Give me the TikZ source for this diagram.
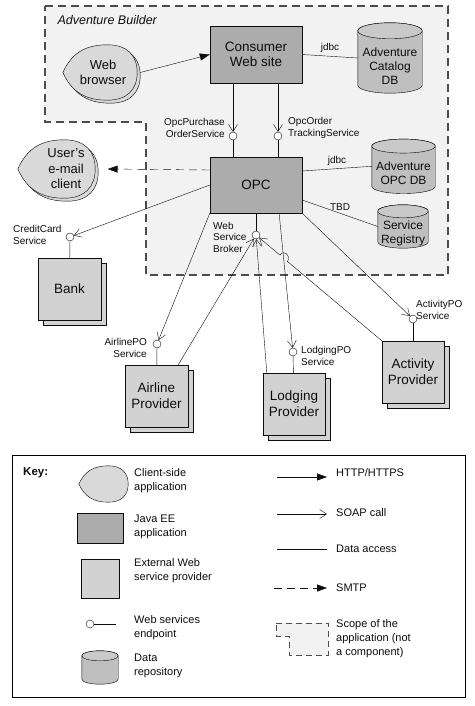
\documentclass[tikz,border=0pt]{standalone}
\usepackage{fontspec}
\setmainfont{Liberation Sans}
\usetikzlibrary{arrows.meta,shadows,calc}
\pgfdeclarelayer{back}
\pgfdeclarelayer{blob}
\pgfsetlayers{back,blob,main}

% client-side application outline round a node, shifted by (#2pt,#3pt)
\newcommand{\clientblob}[3]{%
  \path[clientapp] let \p1=($(#1.south west)+(#2pt,#3pt)$), \p2=($(#1.north east)+(#2pt,#3pt)$),
      \n1={\x2-\x1}, \n2={\y2-\y1} in
    (\x1,{\y1+0.5*\n2})
    .. controls ({\x1+0.12*\n1},{\y1+0.85*\n2}) and ({\x1+0.3*\n1},\y2) .. ({\x1+0.6*\n1},\y2)
    .. controls ({\x1+0.87*\n1},\y2) and (\x2,{\y1+0.8*\n2}) .. (\x2,{\y1+0.5*\n2})
    .. controls (\x2,{\y1+0.2*\n2}) and ({\x1+0.87*\n1},\y1) .. ({\x1+0.6*\n1},\y1)
    .. controls ({\x1+0.3*\n1},\y1) and ({\x1+0.12*\n1},{\y1+0.15*\n2}) .. (\x1,{\y1+0.5*\n2}) -- cycle;}

% data repository drum filling a node, end radius #2
\newcommand{\dbdrum}[2]{%
  \path[dbbody] let \p1=(#1.south west), \p2=(#1.north east), \n1={(\x2-\x1)/2} in
    (\x1,{\y2-#2}) -- (\x1,{\y1+#2}) arc[start angle=180, end angle=360, x radius=\n1, y radius=#2]
    -- (\x2,{\y2-#2}) arc[start angle=0, end angle=180, x radius=\n1, y radius=#2] -- cycle;
  \path[dbtop] let \p1=(#1.south west), \p2=(#1.north east), \n1={(\x2-\x1)/2} in
    ({\x1+\n1},{\y2-#2}) ellipse[x radius=\n1, y radius=#2];}

\begin{document}
\begin{tikzpicture}[x=1pt, y=-1pt, line width=1.1pt, color=black!95,
    javaapp/.style={draw, fill=gray!65, minimum width=92pt, minimum height=57pt, align=center, font=\fontsize{13.5}{15.5}\selectfont},
    extprov/.style={draw, fill=gray!35, minimum width=63pt, minimum height=62pt, align=center, font=\fontsize{13.5}{16}\selectfont},
    provshadow/.style={copy shadow={shadow xshift=5pt, shadow yshift=-5pt}},
    clientapp/.style={draw, fill=gray!30},
    clientnode/.style={inner sep=0pt, align=center, font=\fontsize{13}{15.5}\selectfont},
    datastore/.style={inner sep=0pt},
    dbbody/.style={draw, fill=gray!50},
    dbtop/.style={draw, fill=gray!42},
    dbtext/.style={align=center, inner sep=0pt, font=\fontsize{12}{14}\selectfont},
    endpoint/.style={circle, draw, fill=white, inner sep=0pt, minimum size=8pt},
    eplabel/.style={align=left, inner sep=0pt, font=\fontsize{10}{11.5}\selectfont},
    keytext/.style={anchor=west, align=left, inner sep=0pt, font=\fontsize{11}{14}\selectfont},
    http/.style={-{Triangle[length=10pt,width=7pt]}},
    soap/.style={-{Straight Barb[length=7pt,width=9pt]}},
    smtp/.style={dash pattern=on 8pt off 5pt, -{Triangle[length=10pt,width=7pt]}},
    scopearea/.style={draw=black!70, fill=gray!10, line width=1.1pt, dash pattern=on 8pt off 5pt}]
    \useasboundingbox (0,0) rectangle (474,706);

    % Scope of Adventure Builder and frame of the key
    \begin{pgfonlayer}{back}
        \path[scopearea] (45,6) -- (448,6) -- (448,275) -- (146,275) -- (146,122) -- (45,122) -- cycle;
        \node[draw, fill=white, line width=1pt, minimum width=453pt, minimum height=242pt] (keyframe) at (238.5,576) {};
    \end{pgfonlayer}
    \node[anchor=west, font=\fontsize{12.5}{14}\selectfont\itshape] (title) at (54,20) {Adventure Builder};

    % Web tier
    \node[javaapp] (CW) at (256,54.5) {Consumer\\Web site};
    \node[clientnode, minimum width=74pt, minimum height=55pt] (WB) at (103,72.5) {Web\\browser};
    \node[datastore, minimum width=64pt, minimum height=70pt,
          label={[dbtext, yshift=-8pt]center:Adventure\\Catalog\\DB}] (CDB) at (390,58) {};
    \begin{pgfonlayer}{blob}
        \clientblob{WB}{0}{-3}
        \clientblob{WB}{-3}{0}
        \dbdrum{CDB}{8pt}
    \end{pgfonlayer}
    \draw[http] (WB.east) -- (CW.west);
    \draw (CW.east) -- (CDB.west) node[midway, above=3pt, eplabel] {jdbc};

    % OPC and its data
    \node[javaapp, minimum height=56pt] (OPC) at (256,185) {OPC};
    \node[clientnode, minimum width=77pt, minimum height=58pt] (UM) at (66,169) {User's\\e-mail\\client};
    \node[datastore, minimum width=63pt, minimum height=54pt,
          label={[dbtext, yshift=-7pt]center:Adventure\\OPC DB}] (ODB) at (403.5,166.3) {};
    \node[datastore, minimum width=50pt, minimum height=43pt,
          label={[dbtext, yshift=-6.5pt]center:Service\\Registry}] (SR) at (403,226.5) {};
    \begin{pgfonlayer}{blob}
        \clientblob{UM}{-6.5}{-3}
        \clientblob{UM}{-9.5}{0}
        \dbdrum{ODB}{7pt}
        \dbdrum{SR}{6.5pt}
    \end{pgfonlayer}
    \draw[smtp] ([yshift=15pt]OPC.west) -- ([xshift=3pt]UM.east);
    \draw ([yshift=14pt]OPC.east) -- (ODB.west) node[midway, above=3pt, eplabel] {jdbc};
    \draw ([yshift=-15pt]OPC.east) -- (SR.west) node[midway, above=3pt, eplabel] {TBD};

    % Endpoints
    \node[endpoint] (EP1) at (233,136) {};
    \node[endpoint] (EP2) at (278,136) {};
    \node[endpoint] (CCS) at (70,237) {};
    \node[endpoint] (WSB) at (256,235) {};
    \node[endpoint] (APO) at (157,344) {};
    \node[endpoint] (LPO) at (293,352) {};
    \node[endpoint] (VPO) at (413,319) {};
    \node[eplabel, align=right, anchor=east] (EP1l) at (225,128) {OpcPurchase\\OrderService};
    \node[eplabel, anchor=west] (EP2l) at (288,128) {OpcOrder\\TrackingService};
    \node[eplabel, anchor=west] (CCSl) at (13,235) {CreditCard\\Service};
    \node[eplabel, anchor=west] (WSBl) at (213,237) {Web\\Service\\Broker};
    \node[eplabel, align=right, anchor=east] (APOl) at (147,348) {AirlinePO\\Service};
    \node[eplabel, anchor=west] (LPOl) at (301,356) {LodgingPO\\Service};
    \node[eplabel, anchor=west] (VPOl) at (416,310) {ActivityPO\\Service};

    \draw[soap] (CW.south -| EP1) -- (EP1);
    \draw (EP1) -- (OPC.north -| EP1);
    \draw[soap] (CW.south -| EP2) -- (EP2);
    \draw (EP2) -- (OPC.north -| EP2);

    % External providers
    \node[extprov, provshadow] (BK) at (69.5,289) {Bank};
    \node[extprov, provshadow] (AP) at (156.5,396) {Airline\\Provider};
    \node[extprov, provshadow, minimum width=62pt] (LP) at (294,404) {Lodging\\Provider};
    \node[extprov, provshadow, minimum width=62pt] (VP) at (413,372) {Activity\\Provider};

    \draw[soap] (OPC.west) -- (CCS);
    \draw (CCS) -- (BK);
    \draw (OPC.south) -- (WSB);
    \draw[soap] (OPC.south west) -- (APO);
    \draw (APO) -- (AP);
    \draw[soap] ($(OPC.south)!0.5!(OPC.south east)$) -- (LPO);
    \draw (LPO) -- (LP);
    \draw[soap] (OPC.south east) -- (VPO);
    \draw (VPO) -- (VP);

    % Providers call back the broker
    \draw[soap] ([xshift=-10pt]AP.north east) -- (WSB);
    \draw[soap] ([xshift=4pt]LP.north west) -- (WSB);
    \coordinate (hopA) at ($(VP.north west)!0.75!(WSB)$);
    \coordinate (hopB) at ($(VP.north west)!0.81!(WSB)$);
    \draw[soap] (VP.north west) -- (hopA) .. controls ($(hopA)+(4,-6)$) and ($(hopB)+(4,-6)$) .. (hopB) -- (WSB);

    % Key
    \node[anchor=west, inner sep=0pt, font=\fontsize{11.5}{14}\selectfont\bfseries] (keyhead) at (23,473) {Key:};
    \node[clientnode, minimum width=49pt, minimum height=36pt] (kclient) at (103.5,484) {};
    \node[keytext] (kclientl) at (134,481) {Client-side\\application};
    \node[javaapp, minimum width=46pt, minimum height=30pt] (kjava) at (100,528) {};
    \node[keytext] (kjaval) at (134,527) {Java EE\\application};
    \node[extprov, minimum width=38pt, minimum height=39pt] (kext) at (100,578.5) {};
    \node[keytext] (kextl) at (134,571) {External Web\\service provider};
    \node[endpoint] (kep) at (90,624) {};
    \coordinate (kepend) at (116,624);
    \draw (kep) -- (kepend);
    \node[keytext] (kepl) at (134,628) {Web services\\endpoint};
    \node[datastore, minimum width=36pt, minimum height=33pt] (kdb) at (100,667.5) {};
    \node[keytext] (kdbl) at (134,666) {Data\\repository};
    \begin{pgfonlayer}{blob}
        \clientblob{kclient}{0}{0}
        \dbdrum{kdb}{5pt}
    \end{pgfonlayer}

    \coordinate (kh0) at (277,477); \coordinate (kh1) at (327,477);
    \draw[http] (kh0) -- (kh1);
    \node[keytext] (khl) at (336,473) {HTTP/HTTPS};
    \coordinate (ks0) at (277,514); \coordinate (ks1) at (327,514);
    \draw[soap] (ks0) -- (ks1);
    \node[keytext] (ksl) at (336,512.5) {SOAP call};
    \coordinate (kd0) at (277,549); \coordinate (kd1) at (327,549);
    \draw (kd0) -- (kd1);
    \node[keytext] (kdl) at (336,549) {Data access};
    \coordinate (km0) at (274,588); \coordinate (km1) at (327,588);
    \draw[smtp] (km0) -- (km1);
    \node[keytext] (kml) at (336,587.5) {SMTP};
    \path[scopearea, line width=0.9pt, dash pattern=on 6pt off 4pt] (276,623) -- (328,623) -- (328,655) -- (289,655) -- (289,636) -- (276,636) -- cycle;
    \node[keytext] (kscl) at (336,639) {Scope of the\\application (not\\a component)};
\end{tikzpicture}
\end{document}
